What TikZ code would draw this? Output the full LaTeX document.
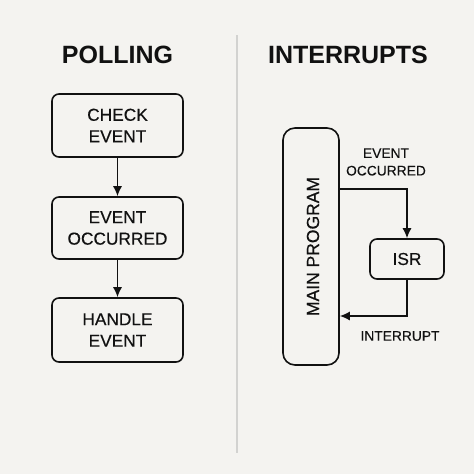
\documentclass[tikz,border=0pt]{standalone}
\usepackage{fontspec}
\setmainfont{Liberation Sans}
\newfontfamily\medfont{Liberation Sans}[UprightFeatures={FakeBold=0.35}]
\usetikzlibrary{arrows.meta}
\definecolor{bg}{HTML}{F4F3F0}
\definecolor{divider}{HTML}{D2D2D0}
\definecolor{ink}{HTML}{111111}
\tikzset{
  flowbox/.style={draw=ink, line width=1.6pt, rounded corners=7pt, fill=bg, align=center,
    font=\medfont\fontsize{17.3}{21.5}\selectfont, text=ink, inner sep=0pt},
  title/.style={font=\fontsize{25}{30}\selectfont\bfseries, text=ink},
  lbl/.style={font=\medfont\fontsize{13.8}{17.5}\selectfont, text=ink, align=center},
  conn/.style={draw=ink, line width=1.4pt, -{Latex[length=10pt,width=9pt]}}
}
\begin{document}
\begin{tikzpicture}[x=1pt,y=-1pt]
\fill[bg] (0,0) rectangle (474,474);
\useasboundingbox (0,0) rectangle (474,474);
% titles
\node[title] (tp) at (117.5,55) {POLLING};
\node[title] (ti) at (348,55) {INTERRUPTS};
% divider
\draw[divider, line width=1.2pt] (237,35) -- (237,453);
% polling
\node[flowbox, minimum width=131pt, minimum height=63pt] (b1) at (117.5,125.5) {CHECK\\EVENT};
\node[flowbox, minimum width=131pt, minimum height=62pt] (b2) at (117.5,228) {EVENT\\OCCURRED};
\node[flowbox, minimum width=131pt, minimum height=64pt] (b3) at (117.5,330) {HANDLE\\EVENT};
\draw[conn] (b1) -- (b2);
\draw[conn] (b2) -- (b3);
% interrupts
\node[flowbox, rounded corners=12pt, minimum width=56pt, minimum height=237pt] (main) at (311,246.5) {};
\node[font=\medfont\fontsize{17.5}{20}\selectfont, text=ink, rotate=90] (mt) at (313,246.5) {MAIN PROGRAM};
\node[flowbox, minimum width=74pt, minimum height=40pt] (isr) at (407,259) {ISR};
\coordinate (y1) at (0,189);
\coordinate (y2) at (0,316);
\draw[conn] (main.east |- y1) -| (isr.north);
\draw[conn] (isr.south) |- (main.east |- y2);
\node[lbl] (l1) at (386,162) {EVENT\\OCCURRED};
\node[lbl] (l2) at (400,336) {INTERRUPT};
\end{tikzpicture}
\end{document}
